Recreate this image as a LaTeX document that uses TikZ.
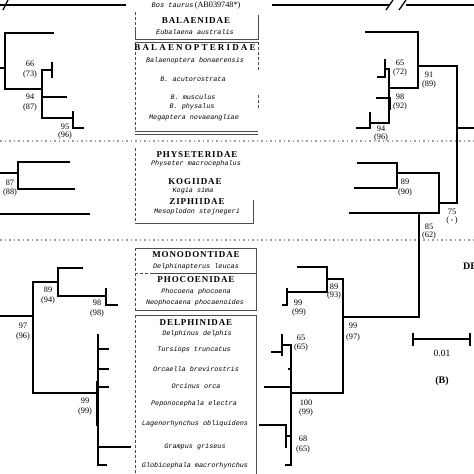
\documentclass[tikz,border=0pt]{standalone}
\usepackage{fontspec}
\setmainfont{Liberation Serif}
\setmonofont{Liberation Mono}
\newfontfamily\famfont[LetterSpace=10]{Liberation Serif}
\newfontfamily\famwide[LetterSpace=24]{Liberation Serif}
\begin{document}
\begin{tikzpicture}[x=1pt,y=-1pt,
  br/.style={line width=1.9pt, line cap=rect, line join=miter},
  brk/.style={line width=1.3pt},
  sep/.style={gray!75, line width=1.1pt, dash pattern=on 1.5pt off 3pt},
  boxln/.style={gray!60!black, line width=0.8pt},
  boxdash/.style={gray!60!black, line width=0.8pt, dash pattern=on 3pt off 2pt},
  tip/.style={font=\fontsize{6.8}{7}\selectfont\ttfamily\itshape, inner sep=0pt},
  fam/.style={font=\fontsize{9}{10}\selectfont\famfont\bfseries, inner sep=0pt},
  bs/.style={font=\fontsize{8.3}{9}\selectfont, inner sep=0pt}]
\path[use as bounding box] (0,0) rectangle (474,474);

% separators
\draw[sep] (0,141) -- (474,141);
\draw[sep] (0,240) -- (474,240);

% ---------- boxes ----------
\draw[boxdash] (135,12) -- (135,30);
\draw[boxln] (135,30) -- (135,39) -- (258,39) -- (258,15);
\draw[boxln] (135,42) -- (258,42);
\draw[boxdash] (135,42) -- (135,132);
\draw[boxdash] (258,42) -- (258,70);
\draw[boxdash] (258,95) -- (258,110);
\draw[boxln] (135,131) -- (258,131);
\draw[boxln] (135,134) -- (258,134);
\draw[boxdash] (135,148) -- (135,223);
\draw[boxln] (135,223) -- (253,223) -- (253,200);
\draw[boxln] (135,248) -- (256,248) -- (256,310) -- (135,310);
\draw[boxdash] (135,248) -- (135,310);
\draw[boxdash] (135,273) -- (152,273);
\draw[boxln] (152,273) -- (256,273);
\draw[boxln] (135,315) -- (256,315) -- (256,474);
\draw[boxdash] (135,315) -- (135,474);

% ---------- labels ----------
\node[inner sep=0pt] (bos) at (196,6) {\fontsize{7}{7}\selectfont\ttfamily\itshape Bos taurus\,\normalfont\fontsize{8.2}{8}\selectfont(AB039748*)};
\node[fam] (balaenidae) at (196,21) {BALAENIDAE};
\node[tip] (eubal) at (195,32) {Eubalaena australis};
\node[fam, font=\fontsize{9}{10}\selectfont\famwide\bfseries] (balaenopteridae) at (195,48) {BALAENOPTERIDAE};
\node[tip] (bbon) at (195,61) {Balaenoptera bonaerensis};
\node[tip] (bacu) at (193,79) {B. acutorostrata};
\node[tip] (bmus) at (193,97) {B. musculus};
\node[tip] (bphy) at (192,107) {B. physalus};
\node[tip] (mnov) at (194,118) {Megaptera novaeangliae};
\node[fam] (physeteridae) at (197,155) {PHYSETERIDAE};
\node[tip] (pmac) at (196,164) {Physeter macrocephalus};
\node[fam] (kogiidae) at (195,182) {KOGIIDAE};
\node[tip] (ksim) at (193,191) {Kogia sima};
\node[fam] (ziphiidae) at (197,202) {ZIPHIIDAE};
\node[tip] (mste) at (197,212) {Mesoplodon stejnegeri};
\node[fam] (monodontidae) at (196,255) {MONODONTIDAE};
\node[tip] (dleu) at (196,267) {Delphinapterus leucas};
\node[fam] (phocoenidae) at (196,280) {PHOCOENIDAE};
\node[tip] (ppho) at (196,292) {Phocoena phocoena};
\node[tip] (npho) at (195,303) {Neophocaena phocaenoides};
\node[fam] (delphinidae) at (196,323) {DELPHINIDAE};
\node[tip] (ddel) at (197,334) {Delphinus delphis};
\node[tip] (ttru) at (194,350) {Tursiops truncatus};
\node[tip] (obre) at (196,369) {Orcaella brevirostris};
\node[tip] (oorc) at (196,386) {Orcinus orca};
\node[tip] (pele) at (194,404) {Peponocephala electra};
\node[tip] (lobl) at (195,424) {Lagenorhynchus obliquidens};
\node[tip] (ggri) at (195,447) {Grampus griseus};
\node[tip] (gmac) at (195,466) {Globicephala macrorhynchus};

% ---------- left tree ----------
\draw[br] (0,5) -- (125,5);
\draw[brk] (3,10) -- (8,0);
\draw[br] (53,33) -- (5,33) -- (5,89) -- (42,89);
\draw[br] (0,68) -- (5,68);
\draw[br] (52,63) -- (52,77);
\draw[br] (52,70) -- (42,70) -- (42,118) -- (73,118);
\draw[br] (42,97) -- (66,97);
\draw[br] (73,112) -- (73,128) -- (83,128);
\draw[br] (69,162) -- (18,162) -- (18,189) -- (74,189);
\draw[br] (0,173) -- (18,173);
\draw[br] (0,214) -- (89,214);
\draw[br] (82,268) -- (58,268) -- (58,296) -- (106,296);
\draw[br] (106,289) -- (106,305) -- (117,305);
\draw[br] (58,282) -- (33,282) -- (33,393) -- (98,393);
\draw[br] (0,316) -- (33,316);
\draw[br] (98,335) -- (98,465) -- (106,465);
\draw[br] (96.5,382) -- (96.5,425);
\draw[br] (98,349) -- (108,349);
\draw[br] (98,369) -- (108,369);
\draw[br] (98,387) -- (108,387);
\draw[br] (98,447) -- (130,447);

\node[bs] (l66) at (30,64) {66}; \node[bs] (l73) at (30,75) {(73)};
\node[bs] (l94) at (30,97) {94}; \node[bs] (l87) at (30,108) {(87)};
\node[bs] (l95) at (65,127) {95}; \node[bs] (l96) at (65,136) {(96)};
\node[bs] (l87b) at (10,183) {87}; \node[bs] (l88) at (10,193) {(88)};
\node[bs] (l98) at (97,303) {98}; \node[bs] (l98b) at (97,313) {(98)};
\node[bs] (l89) at (48,290) {89}; \node[bs] (l94b) at (48,300) {(94)};
\node[bs] (l97) at (23,326) {97}; \node[bs] (l96b) at (23,336) {(96)};
\node[bs] (l99) at (85,401) {99}; \node[bs] (l99b) at (85,411) {(99)};

% ---------- right tree ----------
\draw[br] (273,5) -- (388,5);
\draw[br] (407,5) -- (474,5);
\draw[brk] (386,10) -- (393,0);
\draw[brk] (399,10) -- (406,0);
\draw[br] (366,32) -- (418,32) -- (418,88) -- (389,88);
\draw[br] (418,66) -- (457,66) -- (457,203) -- (439,203);
\draw[br] (457,128) -- (474,128);
\draw[br] (385,69) -- (389,69) -- (389,123) -- (370,123);
\draw[br] (385,60) -- (385,77) -- (378,77);
\draw[br] (389,98) -- (377,98);
\draw[line width=3pt] (389,97) -- (389,110);
\draw[br] (370,113) -- (370,128) -- (357,128);
\draw[br] (358,163) -- (397,163) -- (397,188) -- (355,188);
\draw[br] (397,173) -- (439,173) -- (439,213);
\draw[br] (350,213) -- (439,213);
\draw[br] (419,213) -- (419,317) -- (343,317);
\draw[br] (327,279) -- (343,279) -- (343,393) -- (291,393);
\draw[br] (298,267) -- (327,267) -- (327,292) -- (287,292);
\draw[br] (287,289) -- (287,305) -- (283,305);
\draw[br] (282,335) -- (282,355);
\draw[br] (272,352) -- (282,352);
\draw[br] (282,345) -- (291,345) -- (291,465) -- (286,465);
\draw[br] (289,369) -- (291,369);
\draw[br] (265,387) -- (291,387);
\draw[br] (260,425) -- (286,425) -- (286,447);
\draw[br] (286,436) -- (291,436);

\node[bs] (r65) at (400,63) {65}; \node[bs] (r72) at (400,73) {(72)};
\node[bs] (r98) at (400,97) {98}; \node[bs] (r92) at (400,107) {(92)};
\node[bs] (r94) at (381,129) {94}; \node[bs] (r96) at (381,138) {(96)};
\node[bs] (r91) at (429,75) {91}; \node[bs] (r89) at (429,85) {(89)};
\node[bs] (r89b) at (405,182) {89}; \node[bs] (r90) at (405,193) {(90)};
\node[bs] (r75) at (452,212) {75}; \node[bs] (rdash) at (452,221) {(\,-\,)};
\node[bs] (r85) at (429,227) {85}; \node[bs] (r62) at (429,236) {(62)};
\node[bs] (r89c) at (334,287) {89}; \node[bs] (r93) at (334,296) {(93)};
\node[bs] (r99) at (298,303) {99}; \node[bs] (r99b) at (299,312) {(99)};
\node[bs] (r99c) at (353,326) {99}; \node[bs] (r97) at (353,337) {(97)};
\node[bs] (r65b) at (301,338) {65}; \node[bs] (r65c) at (301,347) {(65)};
\node[bs] (r100) at (306,403) {100}; \node[bs] (r99d) at (306,412) {(99)};
\node[bs] (r68) at (303,439) {68}; \node[bs] (r65d) at (303,449) {(65)};

% scale bar and captions
\coordinate (sbl) at (413,339);
\coordinate (sbr) at (470,339);
\draw[br] (sbl) -- (sbr);
\draw[br] (413,334) -- (413,345);
\draw[br] (470,334) -- (470,345);
\node[font=\fontsize{9.5}{10}\selectfont, inner sep=0pt] (scale) at (442,353) {0.01};
\node[font=\fontsize{10}{11}\selectfont\bfseries, inner sep=0pt] (B) at (442,381) {(B)};
\node[font=\fontsize{10}{11}\selectfont\bfseries, inner sep=0pt, anchor=west] (delph) at (463,266) {DELPHINOIDEA};
\end{tikzpicture}
\end{document}
